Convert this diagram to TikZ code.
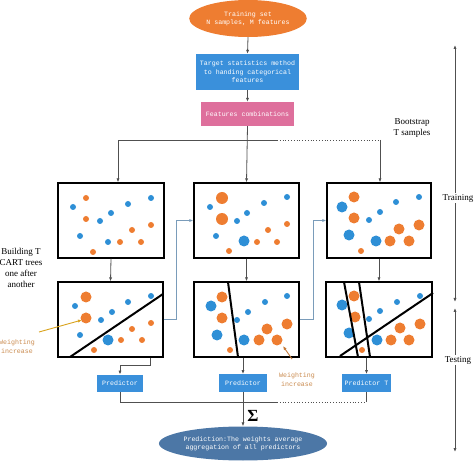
\documentclass[tikz,border=0pt]{standalone}
\usepackage{fontspec}
\setmainfont{Liberation Serif}
\newfontfamily\monofont{Liberation Mono}
\usetikzlibrary{arrows.meta,shapes.geometric}
\definecolor{orn}{HTML}{EE7D31}
\definecolor{blu}{HTML}{2E8FD6}
\definecolor{bbox}{HTML}{3A90DB}
\definecolor{pnk}{HTML}{DE6F9C}
\definecolor{ebot}{HTML}{4C77A6}
\definecolor{conb}{HTML}{7A9CBA}
\definecolor{gold}{HTML}{D9A21B}
\definecolor{brn}{HTML}{C47A3A}
\definecolor{brntxt}{HTML}{C98A4E}
\definecolor{lgray}{HTML}{505050}
\tikzset{
  mono/.style={font=\monofont\fontsize{6.6}{8.4}\selectfont},
  serif/.style={font=\fontsize{9}{11}\selectfont},
  samplebox/.style={draw=black,line width=1.3pt,minimum width=105pt,minimum height=75pt,inner sep=0pt},
  predbox/.style={fill=bbox,text=white,mono,minimum height=17.5pt,inner sep=0pt},
  conn/.style={draw=lgray,line width=0.8pt},
  arr/.style={conn,-{Latex[length=4pt,width=3.2pt]}},
  bconn/.style={draw=conb,line width=0.8pt,-{Latex[length=4pt,width=3.2pt]}},
  cutline/.style={line width=2pt,black},
}
\newcommand\orr[3]{\fill[orn] (#1,#2) circle[radius=#3pt];}
\newcommand\blr[3]{\fill[blu] (#1,#2) circle[radius=#3pt];}
\begin{document}
\begin{tikzpicture}[x=1pt,y=-1pt]
\useasboundingbox (0,0) rectangle (474,462);
% top
\node[ellipse,fill=orn,text=white,mono,align=center,minimum width=97pt,minimum height=37pt,inner sep=0pt] (e1) at (248,18.5) {Training set\\N samples, M features};
\node[fill=bbox,text=white,mono,align=center,minimum width=103pt,minimum height=36pt,inner sep=0pt] (ts) at (247.5,72) {Target statistics method\\to handing categorical\\features};
\node[fill=pnk,text=white,mono,minimum width=93pt,minimum height=24pt,inner sep=0pt] (fc) at (247.5,114) {Features combinations};
\draw[arr] (e1.south) -- (ts.north);
\draw[arr] (ts.south) -- (fc.north);
% sample boxes
\node[samplebox,minimum width=106pt] (b1) at (111,220.5) {};
\node[samplebox] (b2) at (246.5,220.5) {};
\node[samplebox,minimum width=104pt] (b3) at (379,220.5) {};
\node[samplebox] (b4) at (110.5,319.5) {};
\node[samplebox] (b5) at (246.5,319.5) {};
\node[samplebox,minimum width=106pt] (b6) at (379,319.5) {};
% distribution
\coordinate (hl) at (118,140);
\coordinate (hm) at (277,140);
\coordinate (hr) at (380,140);
\draw[arr] (fc.south) -- (b2.north);
\draw[arr] (hm) -- (hl) -- (hl |- b1.north);
\draw[conn,dotted] (hm) -- (hr);
\draw[arr] (hr) -- (hr |- b3.north);
\node[serif,align=center] (boot) at (412,128.5) {Bootstrap\\T samples};
\draw[arr] (b1.south) -- (b4.north);
\draw[arr] (b2.south) -- (b5.north);
\draw[arr] (b3.south) -- (b6.north);
\draw[bconn] (b4.east) -- ++(13,0) |- (b2.west);
\draw[bconn] (b5.east) -- ++(14,0) |- (b3.west);
\node[serif,align=center] (build) at (21,268) {Building T\\CART trees\\one after\\another};
% dots row 1
\foreach \x/\y in {73/207,111/213,100/221,128/204,151/198,80/236,108/242} {\blr{\x}{\y}{3}}
\foreach \x/\y in {86/198,86/219,132/230,151/225,120/242,141/242,93/252} {\orr{\x}{\y}{3}}
\orr{222}{198}{6}\orr{222}{219}{6}
\foreach \x/\y in {210/207,247/213,237/221,264/203,287/197,216/236} {\blr{\x}{\y}{3}}
\blr{244}{241}{5.5}
\foreach \x/\y in {268/230,287/224,257/242,277/242,229/251} {\orr{\x}{\y}{3}}
\foreach \x/\y in {354/197,354/218,390/241,399/229,409/241,419/225} {\orr{\x}{\y}{5.5}}
\foreach \x/\y in {342/207,349/235,376/241} {\blr{\x}{\y}{5.5}}
\foreach \x/\y in {369/220,380/212,396/202,419/197} {\blr{\x}{\y}{3}}
\orr{361}{251}{3}
% dots row 2, box 4
\orr{86}{297}{5.5}\orr{86}{318}{5.5}
\foreach \x/\y in {75/306,101/320,112/312,128/302,151/296,80/335} {\blr{\x}{\y}{3}}
\blr{108}{340}{5.5}
\foreach \x/\y in {132/329,151/323,121/340,142/340,94/350} {\orr{\x}{\y}{3}}
\draw[cutline] (70,357) -- (163,294);
% box 5
\foreach \x/\y in {222/297,222/318,259/340,267/329,277/340,287/324} {\orr{\x}{\y}{5.5}}
\foreach \x/\y in {211/306,217/335,244/340} {\blr{\x}{\y}{5.5}}
\foreach \x/\y in {237/320,248/312,265/302,287/296} {\blr{\x}{\y}{3}}
\orr{230}{350}{3}
\draw[cutline] (228,282) -- (238,357);
% box 6
\foreach \x/\y in {354/296,355/317,391/340,400/328,409/340,420/324} {\orr{\x}{\y}{5.5}}
\foreach \x/\y in {342/305,349/333,377/340} {\blr{\x}{\y}{5.5}}
\foreach \x/\y in {369/319,380/311,397/302,420/296} {\blr{\x}{\y}{3}}
\orr{362}{350}{3}
\draw[cutline] (344,282) -- (358,357);
\draw[cutline] (359,282) -- (370,357);
\draw[cutline] (340,356) -- (433,293);
% weighting
\node[mono,text=brntxt,align=center] (w1) at (17,346.5) {Weighting\\increase};
\coordinate (w1s) at (39,332);
\coordinate (w1e) at (82,320);
\draw[gold,line width=0.9pt,-{Latex[length=4pt,width=3.2pt]}] (w1s) -- (w1e);
\node[mono,text=brntxt,align=center] (w2) at (297,379.5) {Weighting\\increase};
\coordinate (w2s) at (292,359);
\coordinate (w2e) at (283,346);
\draw[brn,line width=0.9pt,-{Latex[length=4pt,width=3.2pt]}] (w2s) -- (w2e);
% predictors
\node[predbox,minimum width=46pt] (p1) at (120,383.5) {Predictor};
\node[predbox,minimum width=48pt] (p2) at (243,383) {Predictor};
\node[predbox,minimum width=49pt] (pT) at (366.5,383) {Predictor T};
\draw[arr] ([xshift=39.5pt]b4.south) -- ++(0,8) -| (p1.north);
\draw[arr] (b5.south -| p2.north) -- (p2.north);
\draw[arr] (b6.south -| pT.north) -- (pT.north);
% aggregation
\node[ellipse,fill=ebot,text=white,mono,align=center,minimum width=160pt,minimum height=34pt,inner sep=0pt] (res) at (243,443.5) {Prediction:The weights average\\aggregation of all predictors};
\coordinate (jd) at (277,402);
\draw[conn] (p1.south) |- (jd);
\draw[conn,dotted] (jd) -- (pT.south |- jd);
\draw[conn] (pT.south |- jd) -- (pT.south);
\draw[arr] (p2.south) -- (res.north);
\node[font=\fontsize{17}{17}\selectfont\bfseries] (sig) at (253,416) {Σ};
% right axis
\coordinate (at) at (455,45);
\coordinate (am) at (455,302);
\coordinate (am2) at (455,308);
\coordinate (ab) at (455,452);
\draw[conn,{Latex[length=4pt,width=3.2pt]}-{Latex[length=4pt,width=3.2pt]}] (at) -- (am);
\draw[conn,{Latex[length=4pt,width=3.2pt]}-{Latex[length=4pt,width=3.2pt]}] (am2) -- (ab);
\node[serif,fill=white,inner sep=1pt] (trn) at (458,198) {Training};
\node[serif,fill=white,inner sep=1pt] (tst) at (458,360) {Testing};
\end{tikzpicture}
\end{document}
